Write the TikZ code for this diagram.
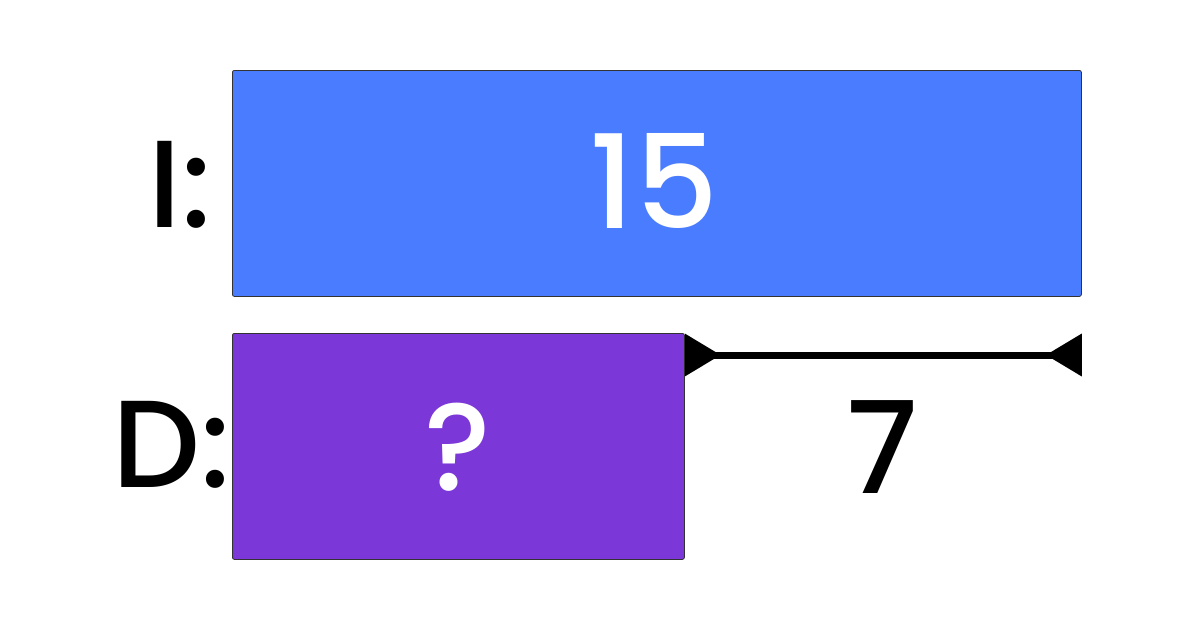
\documentclass[tikz,border=0pt]{standalone}
\usepackage{fontspec}
\IfFontExistsTF{Poppins Medium}{\setmainfont{Poppins Medium}}{\setmainfont{Poppins}[FakeBold=1.2]}
\usetikzlibrary{arrows.meta}
\definecolor{barblue}{HTML}{497CFF}
\definecolor{barpurple}{HTML}{7B37D8}
\definecolor{edge}{HTML}{333333}
\tikzset{
  bar/.style={draw=edge, line width=0.8pt, rounded corners=2pt, inner sep=0pt, anchor=north west},
  big/.style={inner sep=0pt, font=\fontsize{#1}{#1}\selectfont},
  measure/.style={line width=7pt, {Triangle[reversed,length=36pt,width=41pt]}-{Triangle[reversed,length=36pt,width=41pt]}}
}
\begin{document}
\begin{tikzpicture}[x=1pt,y=-1pt]
\useasboundingbox (0,0) rectangle (1200,630);
\node[bar, fill=barblue, minimum width=849pt, minimum height=226pt] (I) at (232,70) {};
\node[bar, fill=barpurple, minimum width=452pt, minimum height=226pt] (D) at (232,333) {};
\node[big=130, text=white, anchor=base] (v15) at (654,228) {15};
\node[big=124, text=white, anchor=base] (vq) at (458,490) {?};
\node[big=128, anchor=base] (v7) at (882,493) {7};
\node[big=124, anchor=base east] (lI) at (212,227) {I:};
\node[big=124, anchor=base east] (lD) at (231,487) {D:};
\coordinate (ml) at (D.north east |- 0,355);
\coordinate (mr) at (I.south east |- 0,355);
\draw[measure] (ml) -- (mr);
\end{tikzpicture}
\end{document}
